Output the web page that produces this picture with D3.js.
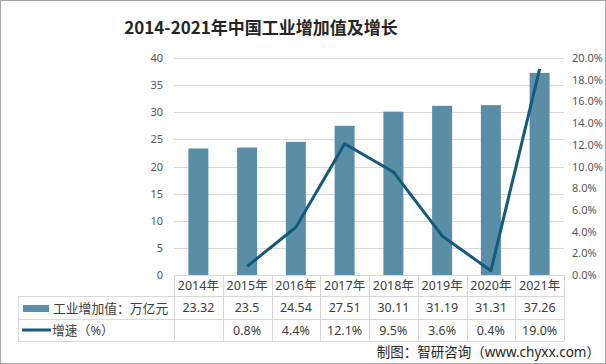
<!DOCTYPE html>
<meta charset="utf-8">
<style>
  body { margin: 0; background: #fff; }
  svg { display: block; }
  text { font-family: "Noto Sans", "Noto Sans CJK SC", sans-serif; }
  .tick text { fill: #595959; font-size: 11px; }
  .cell { fill: #404040; font-size: 12.5px; }
</style>
<body>
<svg width="606" height="364"></svg>
<script src="https://d3js.org/d3.v7.min.js"></script>
<script>

var years = ["2014年", "2015年", "2016年", "2017年", "2018年", "2019年", "2020年", "2021年"];
var valueAdded = [23.32, 23.5, 24.54, 27.51, 30.11, 31.19, 31.31, 37.26];
var growth = [null, 0.8, 4.4, 12.1, 9.5, 3.6, 0.4, 19.0];
var leftTicks = [0, 5, 10, 15, 20, 25, 30, 35, 40];
var rightTicks = [0, 2, 4, 6, 8, 10, 12, 14, 16, 18, 20];

var barColor = "#5a8ea6",
    lineColor = "#125b7b",
    gridColor = "#d9d9d9";

var svg = d3.select("svg"),
    width = +svg.attr("width"),
    height = +svg.attr("height");

var plotL = 174, plotR = 564, plotT = 58, plotB = 275;

var x = d3.scaleBand().domain(years).range([plotL, plotR]).paddingInner(0.59).paddingOuter(0.295);
var xc = d3.scaleBand().domain(years).range([plotL, plotR]);
var y = d3.scaleLinear().domain([0, 40]).range([plotB, plotT]);
var y2 = d3.scaleLinear().domain([0, 20]).range([plotB, plotT]);

// frame
svg.append("rect")
  .attr("x", 0.5).attr("y", 0.5)
  .attr("width", width - 1).attr("height", height - 1)
  .attr("fill", "none").attr("stroke", "#a6a6a6");

// title
svg.append("text")
  .attr("x", 261).attr("y", 34)
  .attr("text-anchor", "middle")
  .style("font-family", "'Noto Sans CJK SC', sans-serif")
  .style("font-size", "17px").style("font-weight", "bold")
  .attr("fill", "#262626")
  .text("2014-2021年中国工业增加值及增长");

// grid
svg.append("g").selectAll("line")
  .data(leftTicks.slice(1))
  .enter().append("line")
  .attr("x1", plotL).attr("x2", plotR)
  .attr("y1", d => Math.round(y(d)) + 0.5).attr("y2", d => Math.round(y(d)) + 0.5)
  .attr("stroke", gridColor);

// axes
var yAxis = svg.append("g")
  .attr("transform", "translate(" + (plotL - 8) + ",0)")
  .call(d3.axisLeft(y).tickValues(leftTicks).tickSize(0).tickPadding(3));
yAxis.select(".domain").remove();

var y2Axis = svg.append("g")
  .attr("transform", "translate(" + (plotR + 5) + ",0)")
  .call(d3.axisRight(y2).tickValues(rightTicks).tickSize(0).tickPadding(3)
    .tickFormat(d => d.toFixed(1) + "%"));
y2Axis.select(".domain").remove();

// bars
svg.append("g").selectAll("rect")
  .data(valueAdded)
  .enter().append("rect")
  .attr("x", (d, i) => x(years[i]))
  .attr("width", x.bandwidth())
  .attr("y", d => y(d))
  .attr("height", d => y(0) - y(d))
  .attr("fill", barColor);

// growth line
var pts = growth.map((g, i) => ({ year: years[i], g: g })).filter(d => d.g !== null);
svg.append("path")
  .datum(pts)
  .attr("fill", "none")
  .attr("stroke", lineColor)
  .attr("stroke-width", 3)
  .attr("stroke-linejoin", "round")
  .attr("d", d3.line()
    .x(d => xc(d.year) + xc.bandwidth() / 2)
    .y(d => y2(d.g)));

// data table
var rows = [plotB, 296, 319, 341];
var legLeft = 18;
var table = svg.append("g");

table.selectAll(".hline")
  .data(rows)
  .enter().append("line")
  .attr("x1", (d, i) => i === 0 ? plotL : legLeft)
  .attr("x2", plotR)
  .attr("y1", d => d + 0.5).attr("y2", d => d + 0.5)
  .attr("stroke", gridColor);

var vx = years.map(yr => xc(yr)).concat([plotR]);
table.selectAll(".vline")
  .data(vx)
  .enter().append("line")
  .attr("x1", d => Math.round(d) + 0.5).attr("x2", d => Math.round(d) + 0.5)
  .attr("y1", plotB).attr("y2", rows[3])
  .attr("stroke", gridColor);

table.append("line")
  .attr("x1", legLeft + 0.5).attr("x2", legLeft + 0.5)
  .attr("y1", rows[1]).attr("y2", rows[3])
  .attr("stroke", gridColor);

var cx = yr => xc(yr) + xc.bandwidth() / 2;

table.selectAll(".hdr")
  .data(years)
  .enter().append("text")
  .attr("class", "cell")
  .attr("x", d => cx(d)).attr("y", 290)
  .attr("text-anchor", "middle")
  .text(d => d);

table.selectAll(".v1")
  .data(valueAdded)
  .enter().append("text")
  .attr("class", "cell")
  .attr("x", (d, i) => cx(years[i])).attr("y", 312)
  .attr("text-anchor", "middle")
  .text(d => d);

table.selectAll(".v2")
  .data(growth)
  .enter().append("text")
  .attr("class", "cell")
  .attr("x", (d, i) => cx(years[i])).attr("y", 335)
  .attr("text-anchor", "middle")
  .text(d => d === null ? "" : d.toFixed(1) + "%");

// legend cells
table.append("rect")
  .attr("x", 23).attr("y", 305).attr("width", 26).attr("height", 7)
  .attr("fill", barColor);
table.append("text")
  .attr("class", "cell")
  .attr("x", 53).attr("y", 313)
  .style("font-size", "12.8px")
  .text("工业增加值：万亿元");

table.append("line")
  .attr("x1", 22).attr("x2", 51)
  .attr("y1", 330).attr("y2", 330)
  .attr("stroke", lineColor).attr("stroke-width", 3);
table.append("text")
  .attr("class", "cell")
  .attr("x", 52).attr("y", 335)
  .style("font-size", "12.8px")
  .text("增速（%）");

// source
svg.append("text")
  .attr("x", 600).attr("y", 357)
  .attr("text-anchor", "end")
  .style("font-size", "13.5px")
  .attr("fill", "#262626")
  .text("制图：智研咨询（www.chyxx.com）");

</script>
</body>
